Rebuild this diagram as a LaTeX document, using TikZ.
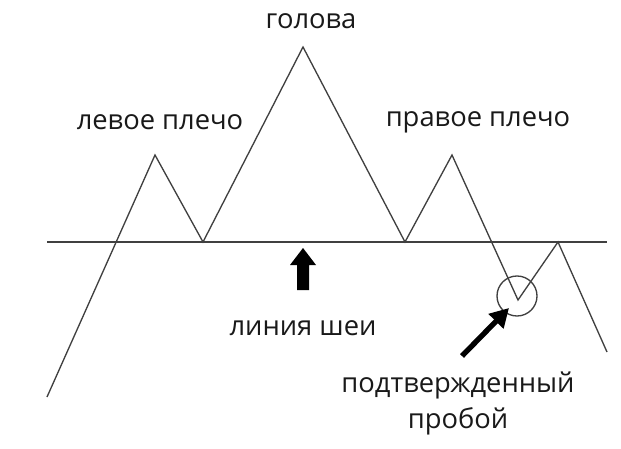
\documentclass[tikz,border=0pt]{standalone}
\usepackage{fontspec}
\setmainfont{Open Sans}
\usetikzlibrary{arrows.meta}
\begin{document}
\begin{tikzpicture}[x=0.75pt,y=-0.75pt,
  lbl/.style={font=\fontsize{20.5}{24}\selectfont, text=black!90},
  ln/.style={draw=black!75, line width=1pt}]
\useasboundingbox (0,0) rectangle (621,449);
\coordinate (p1) at (47,397);
\coordinate (p2) at (155,155);
\coordinate (p3) at (203,242);
\coordinate (p4) at (303,47);
\coordinate (p5) at (405,242);
\coordinate (p6) at (452,155);
\coordinate (p7) at (518,300);
\coordinate (p8) at (558,242);
\coordinate (p9) at (607,352);
\coordinate (n1) at (47,242);
\coordinate (n2) at (607,242);
\draw[ln] (n1) -- (n2);
\draw[ln] (p1)--(p2)--(p3)--(p4)--(p5)--(p6)--(p7)--(p8)--(p9);
\node[ln, circle, minimum size=30pt, inner sep=0pt] (c) at (517,296) {};
\fill[black] (297,290) -- (309,290) -- (309,265) -- (316,265) -- (303,248) -- (290,265) -- (297,265) -- cycle;
\coordinate (a1) at (462,356);
\coordinate (a2) at (509,308);
\draw[black, line width=4pt, -{Triangle[length=14pt,width=15pt]}] (a1) -- (a2);
\node[lbl] (t1) at (311,21) {голова};
\node[lbl] (t2) at (160,122) {левое плечо};
\node[lbl] (t3) at (478,122) {правое плечо};
\node[lbl] (t4) at (303,328) {линия шеи};
\node[lbl] (t5) at (458,385) {подтвержденный};
\node[lbl] (t6) at (458,421) {пробой};
\end{tikzpicture}
\end{document}
